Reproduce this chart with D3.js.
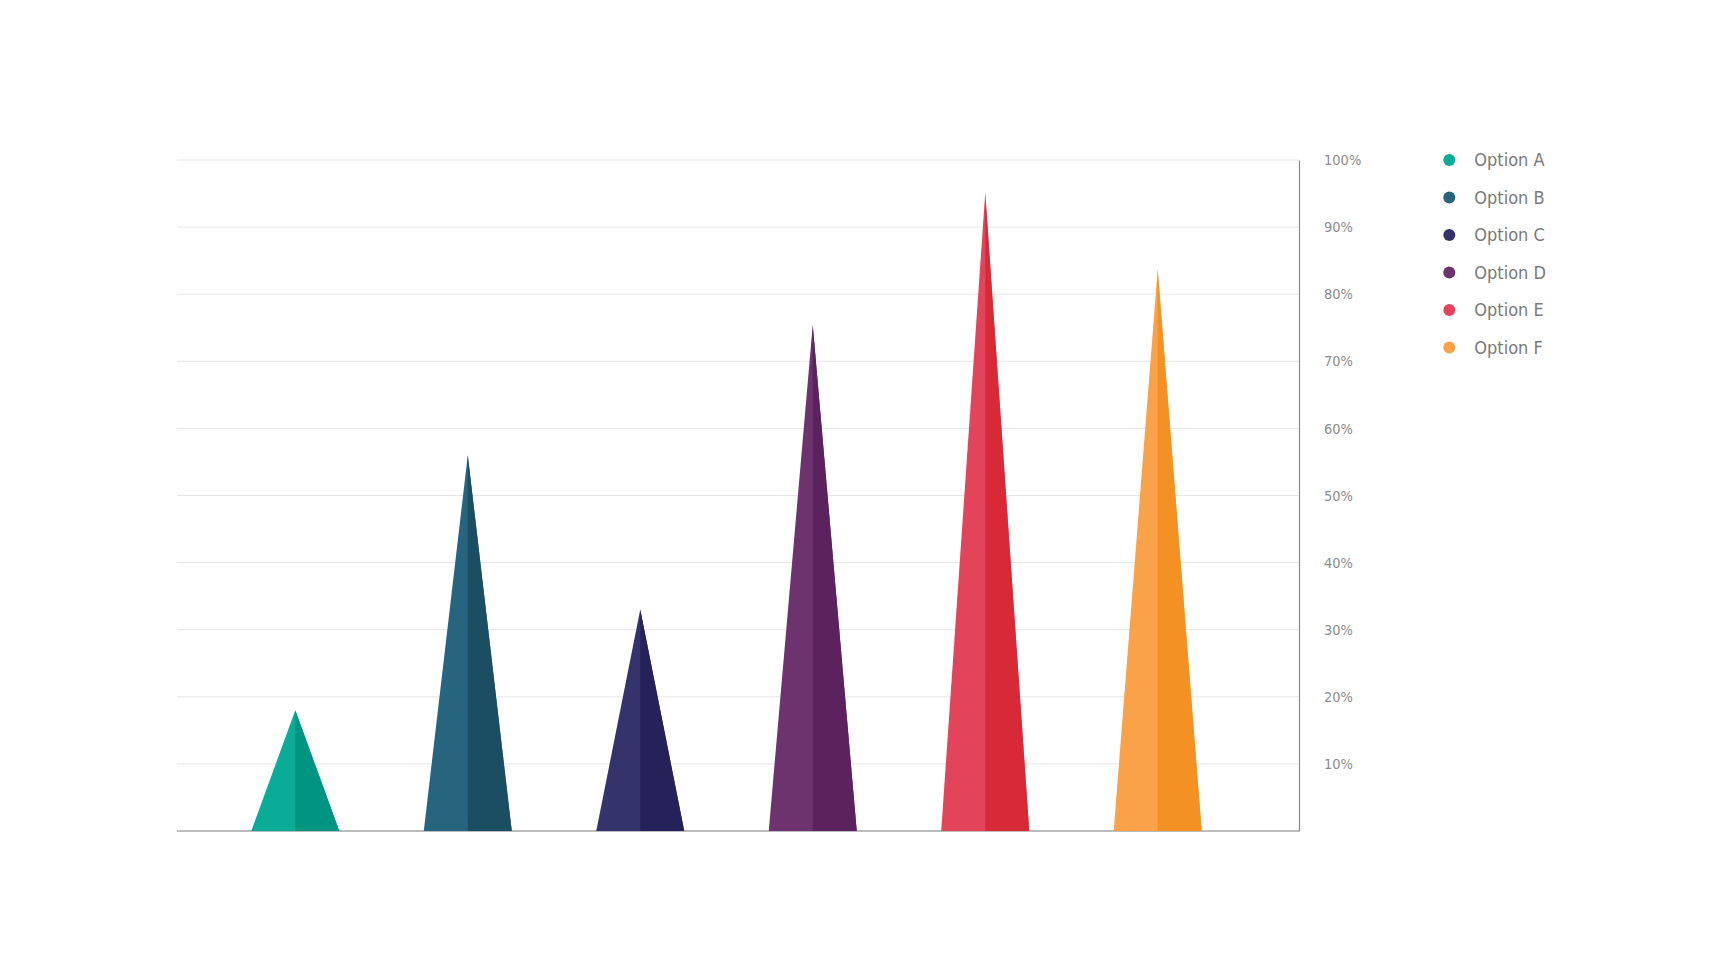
<!DOCTYPE html>
<html>
<head>
<meta charset="utf-8">
<script src="https://cdn.jsdelivr.net/npm/d3@7"></script>
<style>
  html, body { margin: 0; padding: 0; background: #fff; }
  svg text { font-family: "DejaVu Sans Condensed", "DejaVu Sans", sans-serif; font-stretch: condensed; }
</style>
</head>
<body>
<svg id="chart" width="1715" height="980"></svg>
<script>
// chart data
var categories = ["Option A", "Option B", "Option C", "Option D", "Option E", "Option F"];
var values = [18, 56, 33, 75.4, 95.1, 83.7];
var lightColors = ["#0aab97", "#27657e", "#35336b", "#6c336f", "#e2445c", "#f9a24a"];
var darkColors = ["#009483", "#1b4d63", "#25225a", "#5b225e", "#d72a36", "#f39125"];
var tickValues = [10, 20, 30, 40, 50, 60, 70, 80, 90, 100];

var svg = d3.select("#chart");

var plotLeft = 177,
    plotRight = 1299,
    plotTop = 160,
    plotBottom = 831,
    baseWidth = 88;

var x = d3.scalePoint()
    .domain(categories)
    .range([295.3, 1157.7]);

var y = d3.scaleLinear()
    .domain([0, 100])
    .range([plotBottom, plotTop]);

// grid lines
svg.append("g")
    .selectAll("line")
    .data(tickValues)
    .enter().append("line")
    .attr("x1", plotLeft)
    .attr("x2", plotRight)
    .attr("y1", function(d) { return y(d); })
    .attr("y2", function(d) { return y(d); })
    .attr("stroke", "#e6e6e6")
    .attr("stroke-width", 1);

// right axis
var axis = d3.axisRight(y)
    .tickValues(tickValues)
    .tickSize(0)
    .tickPadding(25)
    .tickFormat(function(d) { return d + "%"; });

var gAxis = svg.append("g")
    .attr("transform", "translate(" + plotRight + ",0)")
    .call(axis);

gAxis.select(".domain")
    .attr("stroke", "#8a8a8a")
    .attr("stroke-width", 1.2);

gAxis.selectAll("text")
    .attr("fill", "#8c8c8c")
    .style("font-size", "14.5px");

// baseline
svg.append("line")
    .attr("x1", plotLeft)
    .attr("x2", plotRight)
    .attr("y1", y(0))
    .attr("y2", y(0))
    .attr("stroke", "#7a7a7a")
    .attr("stroke-width", 1.2);

// cones: full light triangle, dark right half on top
var cones = svg.append("g")
    .selectAll("g")
    .data(categories)
    .enter().append("g");

cones.append("path")
    .attr("fill", function(d, i) { return lightColors[i]; })
    .attr("d", function(d, i) {
      var cx = x(d);
      return "M" + (cx - baseWidth / 2) + "," + y(0) +
             "L" + cx + "," + y(values[i]) +
             "L" + (cx + baseWidth / 2) + "," + y(0) + "Z";
    });

cones.append("path")
    .attr("fill", function(d, i) { return darkColors[i]; })
    .attr("d", function(d, i) {
      var cx = x(d);
      return "M" + cx + "," + y(0) +
             "L" + cx + "," + y(values[i]) +
             "L" + (cx + baseWidth / 2) + "," + y(0) + "Z";
    });

// legend
var legend = svg.append("g")
    .selectAll("g")
    .data(categories)
    .enter().append("g")
    .attr("transform", function(d, i) { return "translate(1449.3," + (160 + i * 37.5) + ")"; });

legend.append("circle")
    .attr("r", 6)
    .attr("fill", function(d, i) { return lightColors[i]; });

legend.append("text")
    .attr("x", 25)
    .attr("dy", "0.35em")
    .attr("fill", "#7a7a7a")
    .style("font-size", "18px")
    .text(function(d) { return d; });
</script>
</body>
</html>
